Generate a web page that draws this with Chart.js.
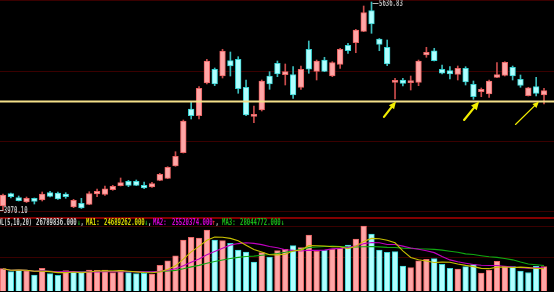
<!DOCTYPE html>
<html><head><meta charset="utf-8">
<script src="https://cdn.jsdelivr.net/npm/chart.js@4/dist/chart.umd.min.js"></script>
<style>html,body{margin:0;padding:0;background:#000;overflow:hidden}canvas{display:block}</style>
</head><body>
<canvas id="c" width="554" height="292"></canvas>
<script>
// ---- data ----
const opens  = [4002.2,4100.8,4068.7,4034.3,4063.9,4050.3,4108.8,4106.4,4098.4,3994.2,
                4023.8,4015.8,4098.4,4096.0,4132.8,4164.9,4200.1,4200.1,4168.1,4154.5,
                4208.1,4224.2,4322.7,4429.3,4779.5,4725.8,4987.8,5097.6,5043.9,5166.5,
                5177.7,4953.4,4720.5,4771.5,5043.9,5145.7,5054.3,5054.3,4953.4,5257.9,
                5081.6,5172.1,5043.9,5137.7,5289.9,5310.7,5402.1,5567.2,5340.4,5273.9,
                4993.4,5011.9,4990.2,4993.4,5212.2,5246.6,5097.6,5086.4,5057.5,5105.6,
                4977.4,4918.1,4899.7,5033.5,5049.5,5113.6,5017.5,4886.1,4958.2,4891.7];
const highs  = [4098.4,4106.4,4082.4,4074.3,4066.3,4114.4,4120.0,4114.4,4108.8,4055.9,
                4063.9,4116.8,4138.4,4162.5,4168.1,4226.6,4208.1,4210.6,4194.5,4192.1,
                4264.2,4317.1,4437.3,4691.3,4837.9,4958.2,5177.7,5108.0,5257.9,5236.2,
                5198.6,5011.9,4803.5,5011.9,5078.4,5164.1,5140.1,5118.4,5124.0,5324.4,
                5172.1,5193.8,5158.5,5265.9,5305.9,5418.1,5604.8,5636.83,5344.4,5332.4,
                5025.5,5025.5,5043.9,5172.1,5273.9,5265.9,5132.1,5118.4,5124.0,5118.4,
                5003.8,4947.8,5011.9,5150.5,5158.5,5124.0,5051.9,4953.4,5033.5,4945.3];
const lows   = [3970.10,4066.3,4042.3,4030.3,4018.2,4042.3,4074.3,4054.3,4063.9,3988.6,
                3982.2,4012.6,4076.7,4087.9,4128.0,4162.5,4156.9,4164.9,4140.8,4150.5,
                4204.9,4221.0,4320.3,4426.9,4699.3,4699.3,4979.8,4966.2,5027.9,5043.9,
                4905.3,4725.8,4669.7,4763.5,4937.3,5038.3,4971.8,4865.2,4937.3,5065.6,
                5011.9,5078.4,5038.3,5105.6,5225.8,5230.6,5398.9,5386.1,5246.6,5126.5,
                4859.6,4963.8,4931.7,4966.2,5193.8,5164.1,5059.9,5019.9,5011.9,4971.8,
                4857.2,4878.0,4873.2,5030.3,5043.9,5011.9,4953.4,4883.6,4883.6,4819.5];
const closes = [4090.4,4076.7,4044.7,4063.9,4039.9,4098.4,4079.9,4058.3,4076.7,4047.9,
                3986.2,4100.8,4120.0,4140.8,4160.1,4188.9,4168.1,4166.5,4146.5,4180.9,
                4256.2,4312.3,4400.5,4683.3,4725.8,4945.3,5164.1,4979.8,5244.2,5124.0,
                4942.1,4731.4,4729.5,5003.8,4979.8,5059.9,5078.4,4891.7,5097.6,5099.5,
                5164.1,5081.6,5150.5,5257.9,5246.6,5412.5,5551.1,5460.6,5297.9,5140.1,
                5009.5,4985.4,5006.3,5164.1,5233.8,5166.5,5065.6,5059.9,5105.6,4995.8,
                4878.0,4937.3,5003.8,5054.3,5153.7,5043.9,4969.4,4950.1,4905.3,4926.1];
// volume in millions
const volumes = [24.6,21.3,23.2,22.1,17.6,25.0,19.1,17.3,22.4,20.9,
                 20.9,23.2,22.8,23.2,20.2,22.8,20.2,19.1,19.5,18.7,
                 28.3,33.4,38.9,56.2,59.2,58.4,67.3,56.2,55.5,52.5,
                 45.2,43.0,32.0,42.3,37.5,44.5,45.9,50.0,47.8,61.7,
                 43.7,44.8,46.3,47.4,50.7,57.3,71.7,62.8,45.2,42.6,
                 43.4,27.6,25.7,33.4,34.9,35.7,29.4,25.0,24.3,26.8,
                 29.0,19.8,23.2,32.7,27.2,26.8,21.9,20.4,27.6,26.789836];
const maPeriods = [5, 10, 20];
const supportLevel = 4840;
const headerParts = [
  {t:'VOL(5,10,20)', c:'#d0d0d0', x:-5.2, sx:0.64},
  {t:'26789836.000', c:'#d0d0d0', x:36},
  {t:'↓', c:'#20c020', x:77.2},
  {t:',', c:'#d0d0d0', x:80.5},
  {t:'MA1:', c:'#d8d800', x:86},
  {t:'24689262.000', c:'#d8d800', x:104},
  {t:'↓', c:'#20c020', x:144.5},
  {t:',', c:'#d0d0d0', x:148},
  {t:'MA2:', c:'#d800d8', x:153},
  {t:'25520374.000', c:'#d800d8', x:172},
  {t:'↑', c:'#ff3030', x:212},
  {t:',', c:'#d0d0d0', x:215.5},
  {t:'MA3:', c:'#18b818', x:222},
  {t:'28044772.000', c:'#18b818', x:240},
  {t:'↓', c:'#20c020', x:281}
];
// annotation arrows: tip at (index, supportLevel), tail offset in px
const arrowMarks = [
  {at:50.12, dx:-12, dy:15.5, w:2.2, head:8},
  {at:60.72, dx:-15, dy:18.5, w:2.2, head:9},
  {at:68.36, dx:-23.5, dy:23, w:1.2, head:7}
];

// ---- derived ----
const idx = closes.map((_, i) => i);
const isUp = idx.map(i => closes[i] >= opens[i]);
const volUp = idx.map(i => i === 0 ? closes[i] >= opens[i] : closes[i] > closes[i-1]);
function movingAvg(n){
  return volumes.map((v,i)=>{const s=Math.max(0,i-n+1);const w=volumes.slice(s,i+1);return w.reduce((a,b)=>a+b,0)/w.length;});
}
const RED_FILL='#ffa6a6', RED_EDGE='#ec6464', CY_FILL='#b0ffff', CY_EDGE='#38d4d4';
const RED_WICK='#cc4c4c', CY_WICK='#3cbcbc';
const maColors = ['#c8c000','#c000c0','#10a810'];

const SX = 0.705;
function ctext(c, txt, x, y, color, sx){
  c.save(); c.translate(x, y); c.scale(sx || SX, 1);
  c.font = 'bold 8px "DejaVu Sans Mono"'; c.textBaseline = 'middle'; c.fillStyle = color;
  c.fillText(txt, 0, 0); c.restore();
}
function arrow(c, x1, y1, x2, y2, w, head){
  const a = Math.atan2(y2-y1, x2-x1);
  c.save(); c.strokeStyle = '#f2ee00'; c.fillStyle = '#f2ee00'; c.lineWidth = w; c.lineCap='round';
  c.beginPath(); c.moveTo(x1, y1); c.lineTo(x2 - Math.cos(a)*head*0.7, y2 - Math.sin(a)*head*0.7); c.stroke();
  c.beginPath(); c.moveTo(x2, y2);
  c.lineTo(x2 - head*Math.cos(a-0.42), y2 - head*Math.sin(a-0.42));
  c.lineTo(x2 - head*Math.cos(a+0.42), y2 - head*Math.sin(a+0.42));
  c.closePath(); c.fill(); c.restore();
}

const decor = {
  id: 'decor',
  beforeDraw(chart){
    const c = chart.ctx; c.save();
    c.fillStyle = '#000'; c.fillRect(0, 0, chart.width, chart.height);
    c.strokeStyle = '#3a0000'; c.lineWidth = 1;
    [0.5, 71.5, 141.5, 211.5, 226.5, 257.5].forEach(y => { c.beginPath(); c.moveTo(0, y); c.lineTo(chart.width, y); c.stroke(); });
    c.strokeStyle = '#b00000'; c.lineWidth = 1.5;
    c.beginPath(); c.moveTo(0, 218); c.lineTo(chart.width, 218); c.stroke();
    c.restore();
  },
  afterDatasetsDraw(chart){
    const c = chart.ctx, xs = chart.scales.x, ys = chart.scales.y;
    const ly = ys.getPixelForValue(supportLevel);
    c.save(); c.strokeStyle = '#f4e08a'; c.lineWidth = 2;
    c.beginPath(); c.moveTo(0, ly); c.lineTo(chart.width, ly); c.stroke(); c.restore();
    arrowMarks.forEach(a => {
      const tx = xs.getPixelForValue(a.at), ty = ly;
      arrow(c, tx + a.dx, ty + a.dy, tx, ty, a.w, a.head);
    });
    let hi = 0, lo = 0;
    idx.forEach(i => { if (highs[i] > highs[hi]) hi = i; if (lows[i] < lows[lo]) lo = i; });
    const hx = xs.getPixelForValue(hi), hy = ys.getPixelForValue(highs[hi]);
    c.save(); c.strokeStyle = '#b8b8b8'; c.lineWidth = 1;
    c.beginPath(); c.moveTo(hx + 1, hy + 1.5); c.lineTo(hx + 7, hy + 1.5); c.stroke();
    const lx = xs.getPixelForValue(lo), lyy = ys.getPixelForValue(lows[lo]);
    c.beginPath(); c.moveTo(Math.max(0, lx - 3), lyy + 0.5); c.lineTo(lx + 0.5, lyy + 0.5); c.stroke();
    c.restore();
    ctext(c, highs[hi].toFixed(2), hx + 7.5, hy + 1.5, '#b8b8b8');
    ctext(c, lows[lo].toFixed(2), lx + 0.8, lyy + 0.8, '#b8b8b8');
    headerParts.forEach(p => ctext(c, p.t, p.x, 222.5, p.c, p.sx));
  }
};

const maSets = maPeriods.map((n, k) => {
  const m = movingAvg(n);
  return { type:'line', label:'MA'+n, data: idx.map(i => ({x:i, y:m[i]})), borderColor: maColors[k],
           borderWidth: 1.1, pointRadius: 0, tension: 0, yAxisID: 'yv', order: 1 };
});

new Chart(document.getElementById('c'), {
  type: 'bar',
  data: {
    datasets: [
      { label:'wick', data: idx.map(i => ({x:i, y:[lows[i], highs[i]]})),
        backgroundColor: idx.map(i => isUp[i] ? RED_WICK : CY_WICK),
        barThickness: 1, yAxisID: 'y', order: 5 },
      { label:'body', data: idx.map(i => ({x:i, y:[opens[i], closes[i]]})),
        backgroundColor: idx.map(i => isUp[i] ? RED_FILL : CY_FILL),
        borderColor: idx.map(i => isUp[i] ? RED_EDGE : CY_EDGE),
        borderWidth: 1, borderSkipped: false, barThickness: 5.7, minBarLength: 2, yAxisID: 'y', order: 4 },
      { label:'vol', data: idx.map(i => ({x:i, y:volumes[i]})),
        backgroundColor: idx.map(i => volUp[i] ? RED_FILL : CY_FILL),
        borderColor: idx.map(i => volUp[i] ? RED_EDGE : CY_EDGE),
        borderWidth: 1, borderSkipped: 'start', barThickness: 5.7, yAxisID: 'yv', order: 3 },
      ...maSets
    ]
  },
  options: {
    responsive: false, animation: false, devicePixelRatio: 1,
    layout: { padding: 0 },
    datasets: { bar: { grouped: false } },
    plugins: { legend: { display: false }, tooltip: { enabled: false } },
    scales: {
      x: { type: 'linear', min: -0.3826, max: 70.275, offset: false, display: false },
      y: { type: 'linear', min: 3313.1, max: 5652.9, display: false },
      yv: { type: 'linear', min: -1.1025, max: 320.83, display: false }
    }
  },
  plugins: [decor]
});
</script>
</body></html>
